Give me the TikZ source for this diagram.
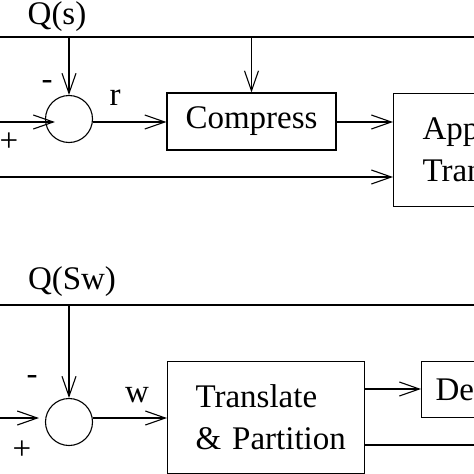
\documentclass[tikz,border=0pt]{standalone}
\usepackage{fontspec}
\setmainfont{Liberation Serif}
\usetikzlibrary{arrows.meta}

\begin{document}
\begin{tikzpicture}[x = 1pt, y = -1pt, line width = 1.1pt,
	> = {Straight Barb[length = 20pt, width = 14pt]},
	block/.style = {draw, rectangle, inner sep = 0pt},
	sum/.style = {draw, circle, minimum size = 47pt, inner sep = 0pt},
	lbl/.style = {inner sep = 0pt}]

	% Frame (the picture is a crop of a wider figure)

	\useasboundingbox (0, 0) rectangle (474, 474);
	\clip (0, 0) rectangle (474, 474);
	\fontsize{33}{42}\selectfont

	% Upper loop: residual r

	\node [lbl] (qs) at (57, 17) {Q(s)};
	\coordinate (top1) at (0, 37);
	\coordinate (in1) at (0, 122);
	\coordinate (side1) at (0, 177);

	\node [sum] (sum1) at (69, 119) {};
	\node [block, minimum width = 169pt, minimum height = 57pt] (comp) at (251.5, 121.5) {Compress};
	\node [block, anchor = north west, minimum width = 150pt, minimum height = 113pt,
		align = left, text width = 121pt, inner xsep = 29pt] (app) at (393, 93) {Approximate\\Transform};

	\draw (top1) -- (474, 37);
	\draw [->] (sum1 |- top1) -- (sum1.north);
	\draw [->] (comp |- top1) -- (comp.north);
	\draw [->] (in1) -- ([xshift = 10pt] in1 -| sum1.west);
	\draw [->] (sum1.east |- in1) -- (comp.west |- in1);
	\draw [->] (comp.east |- in1) -- (app.west |- in1);
	\draw [->] (side1) -- (side1 -| app.west);

	\node [lbl] (minus1) at (47, 85) {-};
	\node [lbl] (plus1) at (9, 142) {+};
	\node [lbl] (r) at (115, 98) {r};

	% Lower loop: w

	\node [lbl] (qsw) at (72, 282) {Q(Sw)};
	\coordinate (top2) at (0, 305);
	\coordinate (in2) at (0, 418);

	\node [block, anchor = north west, minimum width = 197pt, minimum height = 112pt,
		align = left, text width = 141pt, inner xsep = 28pt] (tp) at (167, 361) {Translate\\\mbox{\& Partition}};
	\node [sum] (sum2) at (69, 422) {};
	\node [block, anchor = north west, minimum width = 120pt, minimum height = 56pt,
		align = left, text width = 106pt, inner xsep = 14pt] (dec) at (421, 361) {Decode};
	\coordinate (out2) at (474, 445);

	\draw (top2) -- (474, 305);
	\draw [->] (sum2 |- top2) -- (sum2.north);
	\draw [->] (in2) -- ([xshift = -6pt] in2 -| sum2.west);
	\draw [->] (sum2.east |- in2) -- (tp.west |- in2);
	\draw [->] (tp.east |- 0, 389) -- (dec.west |- 0, 389);
	\draw (tp.east |- out2) -- (out2);

	\node [lbl] (minus2) at (32, 380) {-};
	\node [lbl] (plus2) at (22, 450) {+};
	\node [lbl] (w) at (137, 395) {w};

\end{tikzpicture}
\end{document}
